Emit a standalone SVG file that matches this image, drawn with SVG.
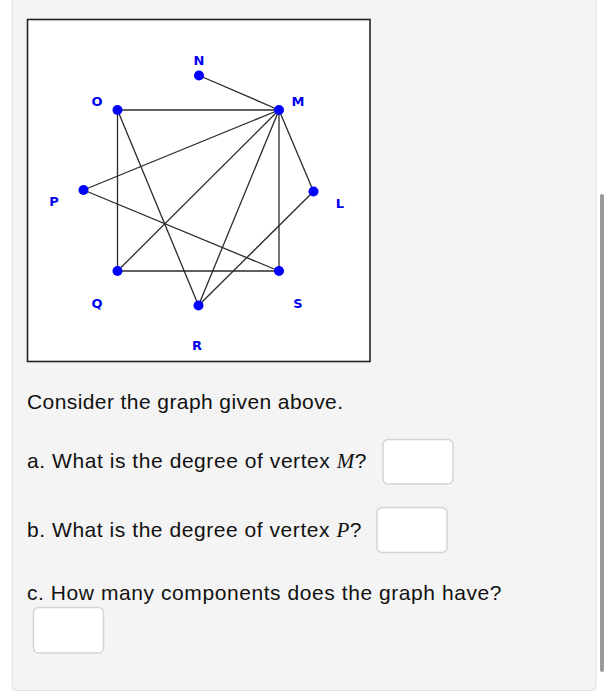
<svg xmlns="http://www.w3.org/2000/svg" width="610" height="700" viewBox="0 0 610 700">
<style>
.edge{stroke:#2a2a2a;stroke-width:1.3;fill:none}
.dot{fill:#0000ff}
.lbl{fill:#0000ee;font-family:"DejaVu Sans",sans-serif;font-weight:bold;font-size:13px;text-anchor:middle}
.q{font-family:"Liberation Sans",Arial,sans-serif;font-size:21px;fill:#111}
.m{font-family:"Liberation Serif",serif;font-style:italic}
.box{fill:#fff;stroke:#d4d4d4;stroke-width:1.5}
</style>
<rect x="0" y="0" width="610" height="700" fill="#ffffff"/>
<rect x="12" y="-10" width="584" height="700.5" rx="4" fill="#f4f4f4" stroke="#e2e2e2" stroke-width="1"/>
<rect x="600" y="194" width="4" height="478" rx="2" fill="#9a9a9a"/>
<rect x="27.5" y="19.5" width="342.5" height="342" fill="#ffffff" stroke="#222" stroke-width="1.6"/>
<g id="connectors">
<line class="edge" x1="199" y1="75.5" x2="279" y2="110"/>
<line class="edge" x1="117.5" y1="110" x2="279" y2="110"/>
<line class="edge" x1="117.5" y1="110" x2="117.5" y2="271"/>
<line class="edge" x1="117.5" y1="110" x2="198.5" y2="305.5"/>
<line class="edge" x1="279" y1="110" x2="83.5" y2="190"/>
<line class="edge" x1="279" y1="110" x2="117.5" y2="271"/>
<line class="edge" x1="279" y1="110" x2="198.5" y2="305.5"/>
<line class="edge" x1="279" y1="110" x2="279" y2="271"/>
<line class="edge" x1="279" y1="110" x2="313.5" y2="191.5"/>
<line class="edge" x1="313.5" y1="191.5" x2="198.5" y2="305.5"/>
<line class="edge" x1="83.5" y1="190" x2="279" y2="271"/>
<line class="edge" x1="117.5" y1="271" x2="279" y2="271"/>
</g>
<g id="N"><circle class="dot" cx="199" cy="75.5" r="5"/><text class="lbl" x="199" y="64.5">N</text></g>
<g id="O"><circle class="dot" cx="117.5" cy="110" r="5"/><text class="lbl" x="97" y="106">O</text></g>
<g id="M"><circle class="dot" cx="279" cy="110" r="5"/><text class="lbl" x="298" y="106">M</text></g>
<g id="P"><circle class="dot" cx="83.5" cy="190" r="5"/><text class="lbl" x="54" y="206">P</text></g>
<g id="L"><circle class="dot" cx="313.5" cy="191.5" r="5"/><text class="lbl" x="340" y="208">L</text></g>
<g id="Q"><circle class="dot" cx="117.5" cy="271" r="5"/><text class="lbl" x="97" y="308">Q</text></g>
<g id="S"><circle class="dot" cx="279" cy="271" r="5"/><text class="lbl" x="298" y="308">S</text></g>
<g id="R"><circle class="dot" cx="198.5" cy="305.5" r="5"/><text class="lbl" x="197" y="349.5">R</text></g>
<text class="q" x="27" y="408.5" textLength="316" lengthAdjust="spacing">Consider the graph given above.</text>
<text class="q" x="27" y="467.5" textLength="339.5" lengthAdjust="spacing">a. What is the degree of vertex <tspan class="m">M</tspan>?</text>
<rect class="box" x="383" y="439.5" width="70" height="44.5" rx="5"/>
<text class="q" x="27" y="536.5" textLength="334.5" lengthAdjust="spacing">b. What is the degree of vertex <tspan class="m">P</tspan>?</text>
<rect class="box" x="377" y="507.5" width="70" height="45" rx="5"/>
<text class="q" x="27" y="599.5" textLength="474.5" lengthAdjust="spacing">c. How many components does the graph have?</text>
<rect class="box" x="33.5" y="607.5" width="70" height="45.5" rx="5"/>
</svg>
